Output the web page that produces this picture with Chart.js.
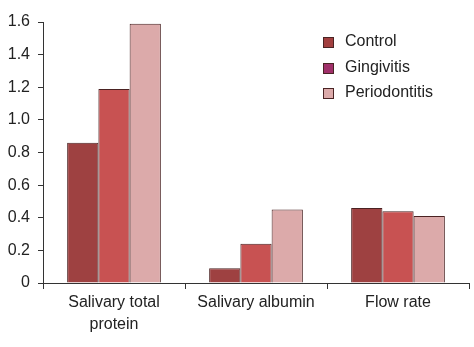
<!DOCTYPE html>
<html>
<head>
<meta charset="utf-8">
<script src="https://cdn.jsdelivr.net/npm/chart.js@4.4.0/dist/chart.umd.min.js"></script>
<style>
    html, body { margin: 0; padding: 0; background: #fff; }
    #wrap { width: 474px; height: 347px; }
</style>
</head>
<body>
<div id="wrap"><canvas id="chart"></canvas></div>
<script>
const categories = [['Salivary total', 'protein'], 'Salivary albumin', 'Flow rate'];
const seriesNames = ['Control', 'Gingivitis', 'Periodontitis'];
const control = [0.86, 0.09, 0.46];
const gingivitis = [1.19, 0.24, 0.44];
const periodontitis = [1.59, 0.45, 0.41];
const yTicks = [0, 0.2, 0.4, 0.6, 0.8, 1.0, 1.2, 1.4, 1.6];

const barColors = ['#9e4141', '#c85252', '#dcaaaa'];
const legendColors = ['#a23f3f', '#a0306a', '#dcaaaa'];
const fontFamily = '"Liberation Sans", Arial, sans-serif';

// legend drawn inside the plot area, top right
const insideLegend = {
    id: 'insideLegend',
    afterDraw(chart) {
        const ctx = chart.ctx;
        ctx.save();
        ctx.font = '16px ' + fontFamily;
        ctx.textBaseline = 'middle';
        const rows = [42, 68, 93];
        chart.data.datasets.forEach((ds, i) => {
            const y = rows[i];
            ctx.fillStyle = legendColors[i];
            ctx.fillRect(323, y - 5, 11, 11);
            ctx.strokeStyle = '#4a2424';
            ctx.lineWidth = 1;
            ctx.strokeRect(323.5, y - 4.5, 10, 10);
            ctx.fillStyle = '#222';
            ctx.fillText(ds.label, 345, y);
        });
        ctx.restore();
    }
};

new Chart(document.getElementById('chart'), {
    type: 'bar',
    data: {
        labels: categories,
        datasets: [control, gingivitis, periodontitis].map((d, i) => ({
            label: seriesNames[i],
            data: d,
            backgroundColor: barColors[i],
            borderColor: '#4a2222',
            borderWidth: 1,
            categoryPercentage: 0.66,
            barPercentage: 1.0,
        }))
    },
    options: {
        responsive: true,
        maintainAspectRatio: false,
        animation: false,
        layout: { padding: { top: 22, right: 5, left: 0, bottom: 0 } },
        plugins: {
            legend: { display: false },
            tooltip: { enabled: false }
        },
        scales: {
            x: {
                grid: {
                    offset: true,
                    drawOnChartArea: false,
                    drawTicks: true,
                    tickLength: 6,
                    color: '#333',
                },
                border: { color: '#333', width: 1 },
                ticks: {
                    color: '#222',
                    font: { family: fontFamily, size: 16, lineHeight: 1.35 },
                    maxRotation: 0,
                    padding: 3,
                },
                afterFit(scale) { scale.height = 64; }
            },
            y: {
                min: 0,
                max: 1.6,
                afterBuildTicks(scale) {
                    scale.ticks = yTicks.map(v => ({ value: v }));
                },
                grid: {
                    drawOnChartArea: false,
                    drawTicks: true,
                    tickLength: 5,
                    color: '#333',
                },
                border: { color: '#333', width: 1 },
                ticks: {
                    color: '#222',
                    font: { family: fontFamily, size: 16 },
                    padding: 8,
                    callback: v => v === 0 ? '0' : v.toFixed(1)
                },
                afterFit(scale) { scale.width = 43; }
            }
        }
    },
    plugins: [insideLegend]
});
</script>
</body>
</html>
